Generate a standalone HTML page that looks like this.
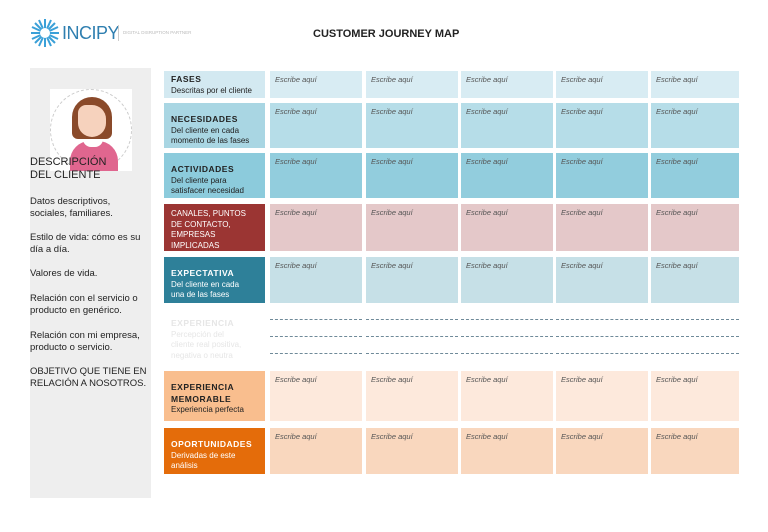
<!DOCTYPE html>
<html><head><meta charset="utf-8">
<style>
*{margin:0;padding:0;box-sizing:border-box}
body{width:768px;height:532px;background:#fff;position:relative;overflow:hidden;font-family:"Liberation Sans",sans-serif;color:#222}
.a{position:absolute}
.h{position:absolute;left:164px;width:101px;padding:4px 7px;font-size:8px;line-height:10.5px}
.h b{font-size:8.5px;letter-spacing:.5px}
.c{position:absolute;font-size:7.5px;font-style:italic;color:#555;padding:4px 5px}
.d{position:absolute;height:0;border-top:1px dashed #6f8a99}
.lp{font-size:9.5px;line-height:12px;color:#222;position:absolute;left:30px;width:125px}
</style></head><body>
<div class="a" style="left:30px;top:18px;width:170px;height:30px">
<svg width="30" height="30" viewBox="0 0 30 30" style="position:absolute;left:0;top:0">
<g stroke="#3aa0d8" stroke-width="2">
<line x1="15" y1="1" x2="15" y2="29"/><line x1="1" y1="15" x2="29" y2="15"/>
<line x1="5" y1="5" x2="25" y2="25"/><line x1="25" y1="5" x2="5" y2="25"/>
<line x1="9" y1="2" x2="21" y2="28"/><line x1="21" y1="2" x2="9" y2="28"/>
<line x1="2" y1="9" x2="28" y2="21"/><line x1="2" y1="21" x2="28" y2="9"/></g>
<circle cx="15" cy="15" r="5" fill="#fff"/></svg>
<span class="a" style="left:32px;top:5px;font-size:18px;color:#2f7fb0;letter-spacing:-0.5px">INCIPY</span>
<span class="a" style="left:88px;top:7px;height:16px;border-left:1px solid #ccc"></span>
<span class="a" style="left:93px;top:12px;font-size:4.5px;color:#bbb;white-space:nowrap">DIGITAL DISRUPTION PARTNER</span>
</div>
<div class="a" style="left:313px;top:28px;font-size:11px;font-weight:bold;color:#222">CUSTOMER JOURNEY MAP</div>

<div class="a" style="left:30px;top:68px;width:121px;height:430px;background:#eeeeee"></div>
<div class="a" style="left:50px;top:89px;width:82px;height:82px;background:#fff;overflow:hidden">
<div class="a" style="left:0;top:0;width:82px;height:82px;border-radius:50%;border:1px dashed #ccc"></div>
<div class="a" style="left:20px;top:52px;width:48px;height:35px;background:#e0668f;border-radius:20px 20px 0 0"></div>
<div class="a" style="left:33px;top:50px;width:20px;height:8px;background:#fff;border-radius:0 0 8px 8px"></div>
<div class="a" style="left:22px;top:8px;width:40px;height:42px;background:#8a4a2a;border-radius:20px 20px 6px 6px"></div>
<div class="a" style="left:28px;top:16px;width:28px;height:32px;background:#f6d2bd;border-radius:8px 14px 14px 14px"></div>
</div>
<div class="lp" style="top:156px;font-size:11px;line-height:13px">DESCRIPCIÓN<br>DEL CLIENTE</div>
<div class="lp" style="top:196px">Datos descriptivos,<br>sociales, familiares.</div>
<div class="lp" style="top:232px">Estilo de vida: cómo es su<br>día a día.</div>
<div class="lp" style="top:268px">Valores de vida.</div>
<div class="lp" style="top:293px">Relación con el servicio o<br>producto en genérico.</div>
<div class="lp" style="top:330px">Relación con mi empresa,<br>producto o servicio.</div>
<div class="lp" style="top:366px">OBJETIVO QUE TIENE EN<br>RELACIÓN A NOSOTROS.</div>

<div id="grid"></div>
<script>
const cols=[[270,92],[366,92],[461,92],[556,92],[651,88]];
const rows=[
 {n:'fases',t:71,h:27,hb:'#d3e9f1',cb:'#d8ecf3',fc:'#222',title:'FASES',sub:'Descritas por el cliente'},
 {n:'necesidades',t:103,h:45,hb:'#a9d6e3',cb:'#b6dde8',fc:'#222',title:'NECESIDADES',sub:'Del cliente en cada<br>momento de las fases'},
 {n:'actividades',t:153,h:45,hb:'#8ccbdc',cb:'#92cddd',fc:'#222',title:'ACTIVIDADES',sub:'Del cliente para<br>satisfacer necesidad'},
 {n:'canales',t:204,h:47,hb:'#9b3533',cb:'#e4c8c9',fc:'#fff',title:'',sub:'CANALES, PUNTOS<br>DE CONTACTO,<br>EMPRESAS<br>IMPLICADAS'},
 {n:'expectativa',t:257,h:46,hb:'#2e8099',cb:'#c6e0e7',fc:'#fff',title:'EXPECTATIVA',sub:'Del cliente en cada<br>una de las fases'},
 {n:'experiencia-memorable',t:371,h:50,hb:'#f9be8e',cb:'#fde9dc',fc:'#222',title:'EXPERIENCIA<br>MEMORABLE',sub:'Experiencia perfecta'},
 {n:'oportunidades',t:428,h:46,hb:'#e46c0a',cb:'#f9d7be',fc:'#fff',title:'OPORTUNIDADES',sub:'Derivadas de este<br>análisis'}
];
const g=document.getElementById('grid');
rows.forEach(r=>{
 const h=document.createElement('div');
 h.className='h';
 
 
 h.style.top=r.t+'px';h.style.height=r.h+'px';h.style.background=r.hb;h.style.color=r.fc;
 h.style.paddingTop=(r.n==='fases'?3:(r.n==='canales'?5:11))+'px';
 h.innerHTML=(r.title?'<b>'+r.title+'</b><br>':'')+r.sub;
 g.appendChild(h);
 cols.forEach((c,i)=>{
  const e=document.createElement('div');
  e.className='c';
  
  
  e.style.left=c[0]+'px';e.style.width=c[1]+'px';e.style.top=r.t+'px';e.style.height=r.h+'px';e.style.background=r.cb;
  e.textContent='Escribe aquí';
  g.appendChild(e);
 });
});
const eh=document.createElement('div');
eh.className='h';


eh.style.top='314px';eh.style.height='50px';eh.style.color='#e6e6e6';eh.style.paddingTop='4px';
eh.innerHTML='<b>EXPERIENCIA</b><br>Percepción del<br>cliente real positiva,<br>negativa o neutra';
g.appendChild(eh);
[319,336,353].forEach(y=>cols.forEach((c,i)=>{
 const d=document.createElement('div');
 d.className='d';
 
 
 d.style.left=c[0]+'px';d.style.width=c[1]+'px';d.style.top=y+'px';
 g.appendChild(d);
}));
</script>
</body></html>
